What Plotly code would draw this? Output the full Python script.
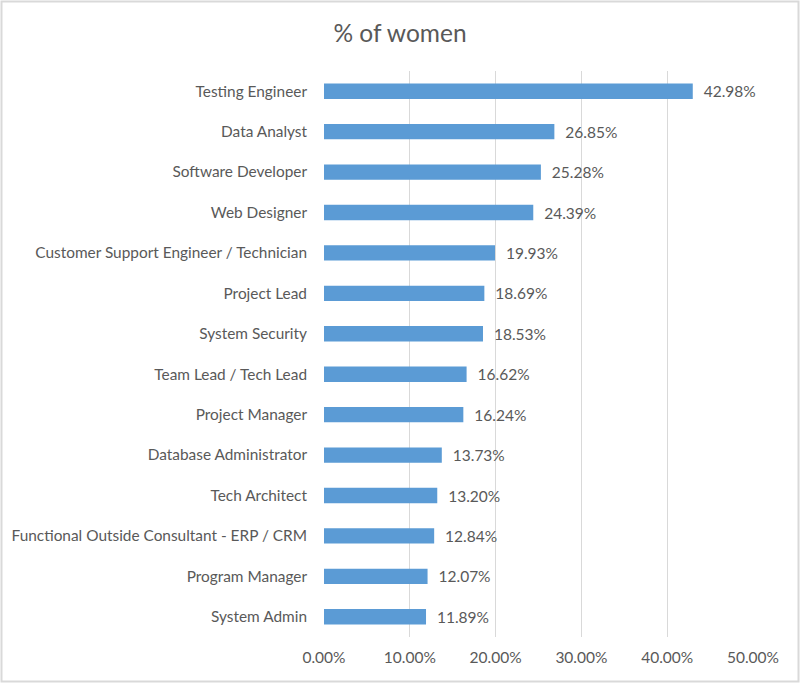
import plotly.graph_objects as go

roles = [
    "Testing Engineer",
    "Data Analyst",
    "Software Developer",
    "Web Designer",
    "Customer Support Engineer / Technician",
    "Project Lead",
    "System Security",
    "Team Lead / Tech Lead",
    "Project Manager",
    "Database Administrator",
    "Tech Architect",
    "Functional Outside Consultant - ERP / CRM",
    "Program Manager",
    "System Admin",
]
pct_women = [0.4298, 0.2685, 0.2528, 0.2439, 0.1993, 0.1869, 0.1853,
             0.1662, 0.1624, 0.1373, 0.1320, 0.1284, 0.1207, 0.1189]
x_ticks = [0, 0.1, 0.2, 0.3, 0.4, 0.5]

W, H = 800, 683
L, R, T, B = 324, 47, 71, 46
pw, ph = W - L - R, H - T - B

text_col = "#595959"
font = "Lato, 'Open Sans', sans-serif"

fig = go.Figure()
fig.add_trace(go.Bar(
    x=pct_women,
    y=roles,
    orientation="h",
    marker=dict(color="#5b9bd5", line=dict(width=0)),
    text=["  {:.2f}%".format(v * 100) for v in pct_women],
    textposition="outside",
    constraintext="none",
    textfont=dict(color=text_col, size=15.5, family=font),
    cliponaxis=False,
))

fig.update_layout(
    width=W, height=H,
    margin=dict(l=L, r=R, t=T, b=B),
    paper_bgcolor="white",
    plot_bgcolor="white",
    bargap=0.62,
    showlegend=False,
    font=dict(family=font, color=text_col, size=15),
    title=dict(text="% of women", x=0.5, xanchor="center", xref="container",
               y=1 - 33 / H, yanchor="middle",
               font=dict(size=24.5, color=text_col, family=font)),
    xaxis=dict(range=[0, 0.5], tickvals=x_ticks, tickformat=".2%",
               showgrid=True, gridcolor="#d9d9d9", gridwidth=1,
               zeroline=False, showline=False, ticks="",
               ticklabelstandoff=9, tickfont=dict(size=15.5, color=text_col)),
    yaxis=dict(autorange="reversed", showgrid=False, zeroline=False,
               showline=False, ticks="", ticklabelstandoff=16,
               tickfont=dict(size=15.4, color=text_col)),
)

# outer chart border
fig.add_shape(type="rect", xref="paper", yref="paper",
              x0=-(L - 1.5) / pw, x1=1 + (R - 1.5) / pw,
              y0=-(B - 1.5) / ph, y1=1 + (T - 1.5) / ph,
              line=dict(color="#d9d9d9", width=2), layer="below")

fig.write_html("out.html", config={"displayModeBar": False},
               post_script="document.body.style.margin='0';")
